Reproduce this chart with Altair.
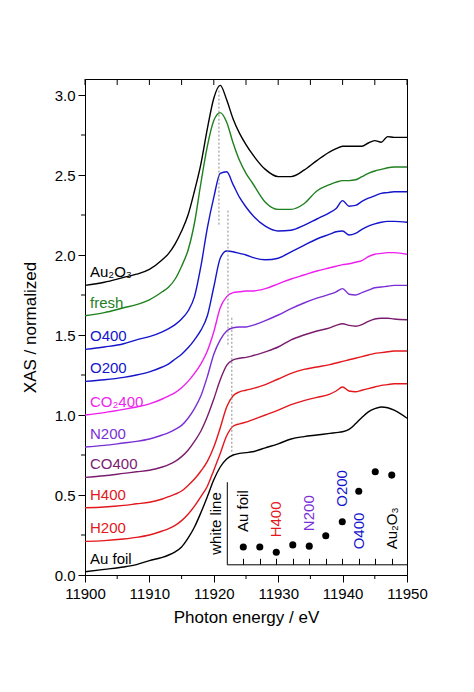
import altair as alt
import pandas as pd

FONT = "Liberation Sans, Arial, sans-serif"

# Photon energy grid (eV) shared by all spectra
energy = [11900, 11903, 11906, 11908, 11910, 11912, 11913, 11914, 11915, 11916,
          11917, 11918, 11919, 11920, 11921, 11922, 11923, 11924, 11925, 11926,
          11928, 11930, 11932, 11934, 11936, 11938, 11939, 11940, 11941, 11942,
          11943, 11944, 11945, 11946, 11947, 11948, 11950]

# Normalized XAS, already stacked with vertical offsets
au_foil = [0.02, 0.035, 0.05, 0.065, 0.09, 0.11, 0.125, 0.145, 0.175, 0.23,
           0.30, 0.39, 0.49, 0.595, 0.675, 0.725, 0.75, 0.76, 0.765, 0.77,
           0.795, 0.82, 0.85, 0.865, 0.875, 0.885, 0.89, 0.895, 0.91, 0.945,
           0.985, 1.02, 1.04, 1.05, 1.045, 1.03, 0.98]
h200 = [0.21, 0.215, 0.225, 0.235, 0.25, 0.275, 0.29, 0.31, 0.34, 0.38,
        0.43, 0.49, 0.555, 0.655, 0.76, 0.87, 0.93, 0.945, 0.955, 0.97,
        1.00, 1.03, 1.065, 1.09, 1.11, 1.13, 1.15, 1.175, 1.15, 1.145,
        1.155, 1.165, 1.175, 1.185, 1.19, 1.195, 1.195]
h400 = [0.42, 0.425, 0.435, 0.445, 0.455, 0.475, 0.49, 0.505, 0.525, 0.56,
        0.60, 0.65, 0.71, 0.80, 0.92, 1.05, 1.12, 1.145, 1.155, 1.165,
        1.19, 1.225, 1.26, 1.285, 1.30, 1.315, 1.325, 1.335, 1.345, 1.355,
        1.365, 1.375, 1.385, 1.39, 1.395, 1.40, 1.40]
co400 = [0.61, 0.62, 0.635, 0.645, 0.655, 0.675, 0.69, 0.71, 0.74, 0.78,
         0.835, 0.90, 0.99, 1.10, 1.22, 1.31, 1.345, 1.355, 1.36, 1.37,
         1.395, 1.425, 1.47, 1.50, 1.525, 1.545, 1.56, 1.57, 1.56, 1.555,
         1.565, 1.585, 1.60, 1.605, 1.605, 1.60, 1.595]
n200 = [0.80, 0.81, 0.825, 0.835, 0.85, 0.875, 0.89, 0.91, 0.935, 0.98,
        1.04, 1.12, 1.24, 1.38, 1.47, 1.525, 1.545, 1.55, 1.55, 1.56,
        1.59, 1.625, 1.665, 1.70, 1.73, 1.755, 1.77, 1.79, 1.755, 1.75,
        1.765, 1.78, 1.795, 1.80, 1.805, 1.81, 1.81]
co2_400 = [1.00, 1.015, 1.035, 1.05, 1.07, 1.10, 1.12, 1.14, 1.17, 1.21,
           1.26, 1.32, 1.40, 1.52, 1.67, 1.74, 1.765, 1.77, 1.775, 1.775,
           1.79, 1.82, 1.85, 1.875, 1.90, 1.92, 1.93, 1.94, 1.945, 1.955,
           1.965, 1.99, 2.005, 2.01, 2.015, 2.015, 2.005]
o200 = [1.21, 1.22, 1.235, 1.25, 1.27, 1.30, 1.32, 1.35, 1.38, 1.42,
        1.47, 1.53, 1.62, 1.80, 1.98, 2.025, 2.02, 2.01, 2.00, 1.985,
        1.97, 1.98, 2.02, 2.06, 2.10, 2.13, 2.145, 2.15, 2.125, 2.135,
        2.16, 2.18, 2.195, 2.205, 2.21, 2.21, 2.205]
o400 = [1.41, 1.425, 1.445, 1.47, 1.49, 1.52, 1.54, 1.565, 1.60, 1.65,
        1.74, 1.93, 2.17, 2.36, 2.51, 2.52, 2.44, 2.36, 2.30, 2.25,
        2.18, 2.15, 2.155, 2.185, 2.225, 2.265, 2.29, 2.34, 2.305, 2.31,
        2.335, 2.355, 2.37, 2.385, 2.39, 2.395, 2.395]
fresh = [1.62, 1.64, 1.67, 1.69, 1.72, 1.77, 1.80, 1.85, 1.93, 2.03,
         2.20, 2.45, 2.68, 2.84, 2.89, 2.83, 2.70, 2.59, 2.51, 2.45,
         2.33, 2.285, 2.285, 2.32, 2.40, 2.44, 2.455, 2.465, 2.465, 2.47,
         2.49, 2.51, 2.525, 2.535, 2.545, 2.55, 2.55]
au2o3 = [1.81, 1.83, 1.86, 1.88, 1.91, 1.97, 2.01, 2.07, 2.15, 2.25,
         2.40, 2.57, 2.79, 2.98, 3.06, 2.97, 2.85, 2.76, 2.69, 2.63,
         2.535, 2.49, 2.49, 2.53, 2.59, 2.645, 2.665, 2.68, 2.68, 2.68,
         2.68, 2.70, 2.715, 2.705, 2.74, 2.735, 2.735]

samples = ["Au foil", "H200", "H400", "CO400", "N200",
           "CO\u2082400", "O200", "O400", "fresh", "Au\u2082O\u2083"]
series = [au_foil, h200, h400, co400, n200, co2_400, o200, o400, fresh, au2o3]
colors = ["#000000", "#e3171c", "#e3171c", "#7a1c6e", "#7a2fd6",
          "#ee1fee", "#1414cc", "#1414cc", "#1f801f", "#000000"]

# White-line positions marked with dotted guides (eV, lower/upper XAS)
wl_energy = [11920.8, 11922.2, 11922.8]
wl_lo = [2.19, 1.44, 0.77]
wl_hi = [3.04, 2.28, 1.61]

# Inset: white-line intensity per sample (arbitrary units)
inset_values = [0.21, 0.21, 0.145, 0.235, 0.22, 0.345, 0.515, 0.885, 1.12, 1.08]
inset_labels = {0: "above", 2: "above", 4: "above", 6: "above", 7: "below", 9: "below"}

# Axis tick positions
x_major = list(range(11900, 11951, 10))
x_minor = list(range(11905, 11950, 10))
y_major = [k * 0.5 for k in range(7)]
y_minor = [0.25 + k * 0.5 for k in range(6)]

rows = []
for name, col, vals in zip(samples, colors, series):
    for e, v in zip(energy, vals):
        rows.append({"sample": name, "color": col, "energy": e, "xas": v})
spectra = pd.DataFrame(rows)

lab_df = pd.DataFrame({
    "sample": samples,
    "color": colors,
    "energy": [energy[0]] * len(samples),
    "xas": [s[0] for s in series],
})

wl_df = pd.DataFrame({"energy": wl_energy, "xas": wl_lo, "xas_hi": wl_hi})
top_tick_df = pd.DataFrame({"energy": sorted(x_major + x_minor)})
x_minor_df = pd.DataFrame({"energy": x_minor})
y_minor_df = pd.DataFrame({"xas": y_minor})

PLOT_W, PLOT_H = 322, 496

x_axis = alt.Axis(
    values=x_major, format="d", tickSize=7, labelFlush=False,
    labelFontSize=15, titleFontSize=17, labelFont=FONT, titleFont=FONT,
    labelColor="black", titleColor="black", titleFontWeight="normal",
    domainColor="black", tickColor="black", grid=False,
    labelPadding=4, titlePadding=8,
)
y_axis = alt.Axis(
    values=y_major, format=".1f", tickSize=7, labelFlush=False,
    labelFontSize=15, titleFontSize=17, labelFont=FONT, titleFont=FONT,
    labelColor="black", titleColor="black", titleFontWeight="normal",
    domainColor="black", tickColor="black", grid=False,
    labelPadding=3, titlePadding=15,
)
x_scale = alt.Scale(domain=[11900, 11950], nice=False, zero=False)
y_scale = alt.Scale(domain=[0, 3.1], nice=False, zero=False)

X = alt.X("energy:Q", scale=x_scale, axis=x_axis, title="Photon energy / eV")
Y = alt.Y("xas:Q", scale=y_scale, axis=y_axis, title="XAS / normalized")

lines = alt.Chart(spectra).mark_line(strokeWidth=1.4, interpolate="monotone").encode(
    x=X, y=Y,
    color=alt.Color("color:N", scale=None),
    detail="sample:N",
)
labels = alt.Chart(lab_df).mark_text(
    align="left", baseline="middle", dx=5, dy=-13, fontSize=15, font=FONT
).encode(x=X, y=Y, text="sample:N", color=alt.Color("color:N", scale=None))

guides = alt.Chart(wl_df).mark_rule(
    strokeDash=[2, 2], color="#8a8a8a", strokeWidth=1
).encode(x=X, y=Y, y2="xas_hi:Q")

# inward ticks on the top frame edge
top_ticks = alt.Chart(top_tick_df).mark_rule(color="black", strokeWidth=1).encode(
    x=X, y=alt.value(0), y2=alt.value(6)
)
# shorter minor ticks outside the bottom and left axes
x_minor_ticks = alt.Chart(x_minor_df).mark_rule(color="black", strokeWidth=1).encode(
    x=X, y=alt.value(PLOT_H), y2=alt.value(PLOT_H + 4)
)
y_minor_ticks = alt.Chart(y_minor_df).mark_rule(color="black", strokeWidth=1).encode(
    y=Y, x=alt.value(0), x2=alt.value(-4)
)

main = alt.layer(lines, guides, labels, top_ticks, x_minor_ticks, y_minor_ticks)

# Inset chart: white-line intensity vs. sample
n = len(samples)
inset_df = pd.DataFrame({"idx": list(range(n)), "wl": inset_values})
il_rows = []
for i, side in inset_labels.items():
    il_rows.append({
        "idx": i,
        "text": samples[i],
        "color": colors[i],
        "wl": inset_values[i] if side == "above" else 0.0,
    })
il_df = pd.DataFrame(il_rows)

XI = alt.X(
    "idx:Q",
    scale=alt.Scale(domain=[-1, 9.9], range=[141.8, 321.6], nice=False, zero=False),
    axis=alt.Axis(orient="top", offset=-485.3, values=list(range(n)), labels=False,
                  tickSize=6, domainColor="black", tickColor="black", grid=False, title=None),
)
YI = alt.Y(
    "wl:Q",
    scale=alt.Scale(domain=[0, 1], range=[485.3, 402.7], nice=False, zero=False),
    axis=alt.Axis(orient="left", offset=-141.8, labels=False, ticks=False, grid=False,
                  domainColor="black", title="white line", titleFont=FONT,
                  titleFontSize=15, titleFontWeight="normal", titleColor="black",
                  titlePadding=3),
)

dots = alt.Chart(inset_df).mark_circle(size=50, color="black", opacity=1).encode(x=XI, y=YI)
inset_text = alt.Chart(il_df).mark_text(
    angle=270, align="left", baseline="middle", dx=15, fontSize=15, font=FONT
).encode(x=XI, y=YI, text="text:N", color=alt.Color("color:N", scale=None))

inset = alt.layer(dots, inset_text)

chart = alt.layer(main, inset).resolve_scale(x="independent", y="independent").properties(
    width=PLOT_W, height=PLOT_H,
    autosize=alt.AutoSizeParams(type="none"),
    padding={"left": 85, "top": 79, "right": 67, "bottom": 117},
    background="white",
).configure_view(stroke="black", strokeWidth=1)

chart.save("out.html", embed_options={"renderer": "svg", "actions": False})
